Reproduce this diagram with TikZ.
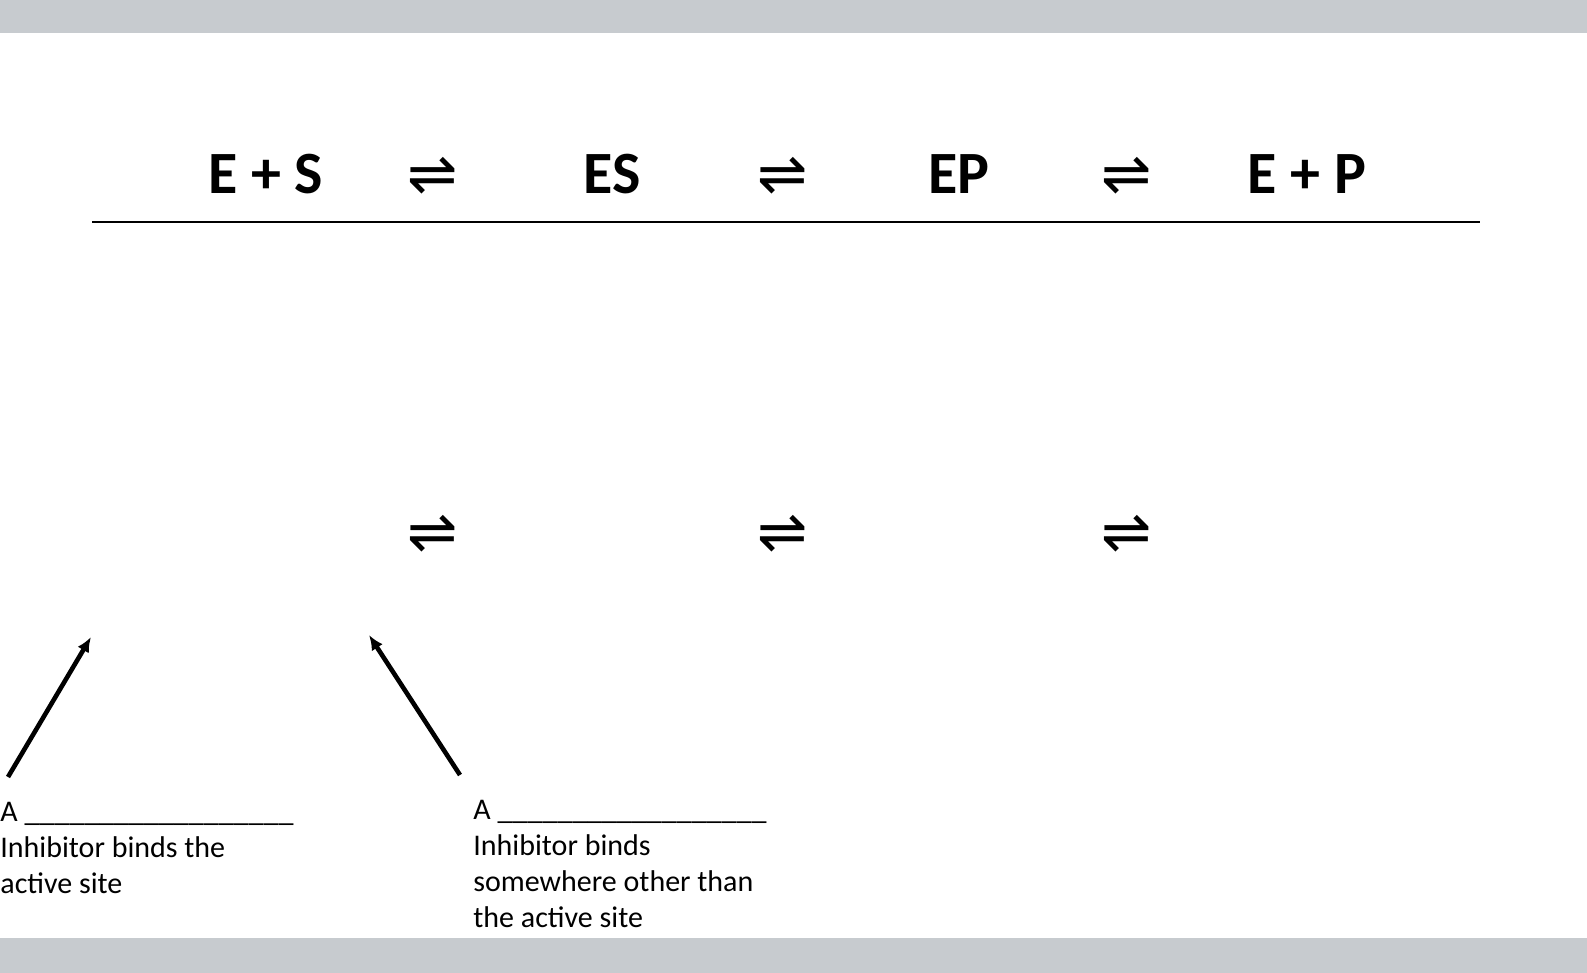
\documentclass[tikz,border=0pt]{standalone}
\usepackage{fontspec}
\setmainfont{Carlito}
\newfontfamily\symfam{DejaVu Sans}
\usetikzlibrary{arrows.meta}
\tikzset{>={Latex[length=7.5pt, width=6.5pt]}}
\definecolor{cbar}{RGB}{199,203,207}
\newcommand{\blank}{\_\_\_\_\_\_\_\_\_\_\_\_\_\_\_\_\_\_}
\tikzset{
    spc/.style={font=\fontsize{30}{36}\selectfont\bfseries, inner sep=0pt},
    eqm/.style={font=\symfam\fontsize{30}{36}\selectfont, inner sep=0pt},
    note/.style={font=\fontsize{15}{18}\selectfont, align=left, anchor=base west, inner sep=0pt}
}

\begin{document}
\begin{tikzpicture}[x=.5pt, y=-.5pt]
    \useasboundingbox(0, 0)rectangle(1587, 973);
    \fill[cbar](0, 0)rectangle(1587, 33);
    \fill[cbar](0, 938)rectangle(1587, 973);
    \node[spc](es)at(266, 174){E + S};
    \node[spc](cx)at(612, 174){ES};
    \node[spc](ep)at(959, 174){EP};
    \node[spc](prod)at(1307, 174){E + P};
    \foreach \n/\x in {1/433, 2/783, 3/1127}{
        \node[eqm](top\n)at(\x, 176){⇌};
        \node[eqm](low\n)at(\x, 534){⇌};
    }
    \draw[line width=1pt](92, 222)--(1480, 222);
    % base west = last line
    \node[note](comp)at(0, 893){A \blank\\Inhibitor binds the\\active site};
    \node[note](allo)at(473, 927){A \blank\\Inhibitor binds\\somewhere other than\\the active site};
    \coordinate(ca)at(91, 637);
    \coordinate(aa)at(369, 635);
    \draw[line width=2.3pt, ->]([shift={(8, -116)}]comp.base west)--(ca);
    \draw[line width=2.3pt, ->]([shift={(-13, -152)}]allo.base west)--(aa);
\end{tikzpicture}
\end{document}
